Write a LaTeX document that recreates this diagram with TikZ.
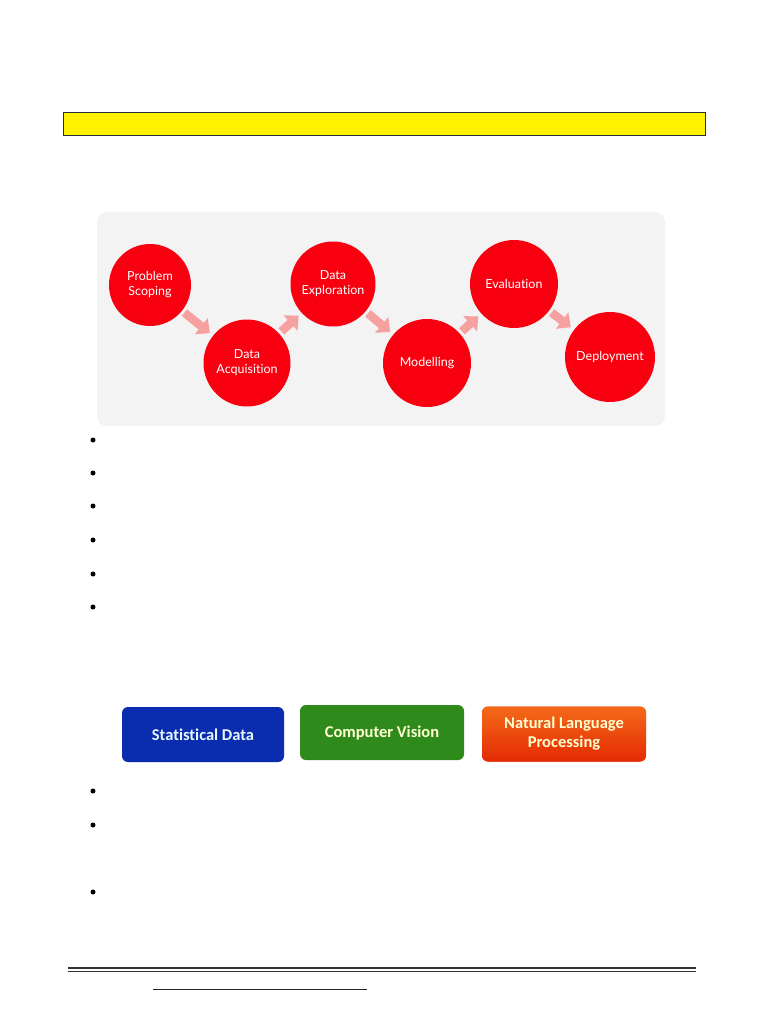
\documentclass[tikz,border=0pt]{standalone}
\usepackage{fontspec}
\setmainfont{Lato}[Ligatures=NoCommon]
\newfontfamily\boxfont{Carlito}[Ligatures=NoCommon]
\usetikzlibrary{arrows.meta,shapes.geometric}
\definecolor{stepred}{HTML}{F80010}
\definecolor{pinkarrow}{HTML}{F6A0A0}
\definecolor{bggray}{HTML}{F3F3F3}
\definecolor{statblue}{HTML}{0A2DB0}
\definecolor{cvgreen}{HTML}{2F8A1C}
\definecolor{nlptop}{HTML}{F46A18}
\definecolor{nlpbot}{HTML}{E42A04}
\definecolor{boxtext}{HTML}{FFFFD0}
\definecolor{navy}{HTML}{2A2A40}
\tikzset{
  stepcircle/.style={circle, fill=stepred, text=white, minimum size=#1, inner sep=0pt, align=center, font=\fontsize{12.5}{15}\selectfont},
  flowarrow/.style={draw=pinkarrow, line width=8.5pt, -{Triangle[width=20pt,length=11pt]}, shorten <=3pt, shorten >=4pt},
  topicbox/.style={rounded corners=6pt, minimum width=#1, minimum height=55pt, inner sep=2pt, align=center, text=boxtext, font=\boxfont\bfseries\fontsize{16.5}{19}\selectfont},
  bullet/.style={circle, fill=black, inner sep=0pt, minimum size=5pt},
}
\begin{document}
\begin{tikzpicture}[x=1pt,y=-1pt]
\useasboundingbox (0,0) rectangle (768,1024);
\fill[white] (0,0) rectangle (768,1024);
% title bar
\node[draw=navy, line width=1pt, fill=yellow, minimum width=642pt, minimum height=23pt, inner sep=0pt] (title) at (384,124.5) {};
% background panel
\fill[bggray, rounded corners=10pt] (97,212) rectangle (665,426);
% circles
\node[stepcircle=82pt] (ps) at (150,285) {Problem\\Scoping};
\node[stepcircle=87pt] (da) at (247,363) {Data\\Acquisition};
\node[stepcircle=85pt] (de) at (333,284) {Data\\Exploration};
\node[stepcircle=88pt] (mo) at (427,363) {Modelling};
\node[stepcircle=88pt] (ev) at (514,284) {Evaluation};
\node[stepcircle=90pt] (dp) at (610,357) {Deployment};
% arrows
\draw[flowarrow] (ps) -- (da);
\draw[flowarrow] (da) -- (de);
\draw[flowarrow] (de) -- (mo);
\draw[flowarrow] (mo) -- (ev);
\draw[flowarrow] (ev) -- (dp);
% bullets
\foreach \y [count=\i] in {440,473,506,540,574,607,791,825,892}
  \node[bullet] (b\i) at (93,\y) {};
% topic boxes
\node[topicbox=162pt, fill=statblue, text=white!90!cyan] (stat) at (203,734.5) {Statistical Data};
\node[topicbox=164pt, fill=cvgreen] (cv) at (382,732.5) {Computer Vision};
\node[topicbox=164pt, top color=nlptop, bottom color=nlpbot, fill=nlpbot] (nlp) at (564,734) {Natural Language\\Processing};
% footer
\draw[line width=1.3pt, black!80] (68,968) -- (696,968);
\draw[line width=1.3pt, black!80] (68,971.5) -- (696,971.5);
\draw[line width=1pt, black!85] (153,989) -- (367,989);
\end{tikzpicture}
\end{document}
